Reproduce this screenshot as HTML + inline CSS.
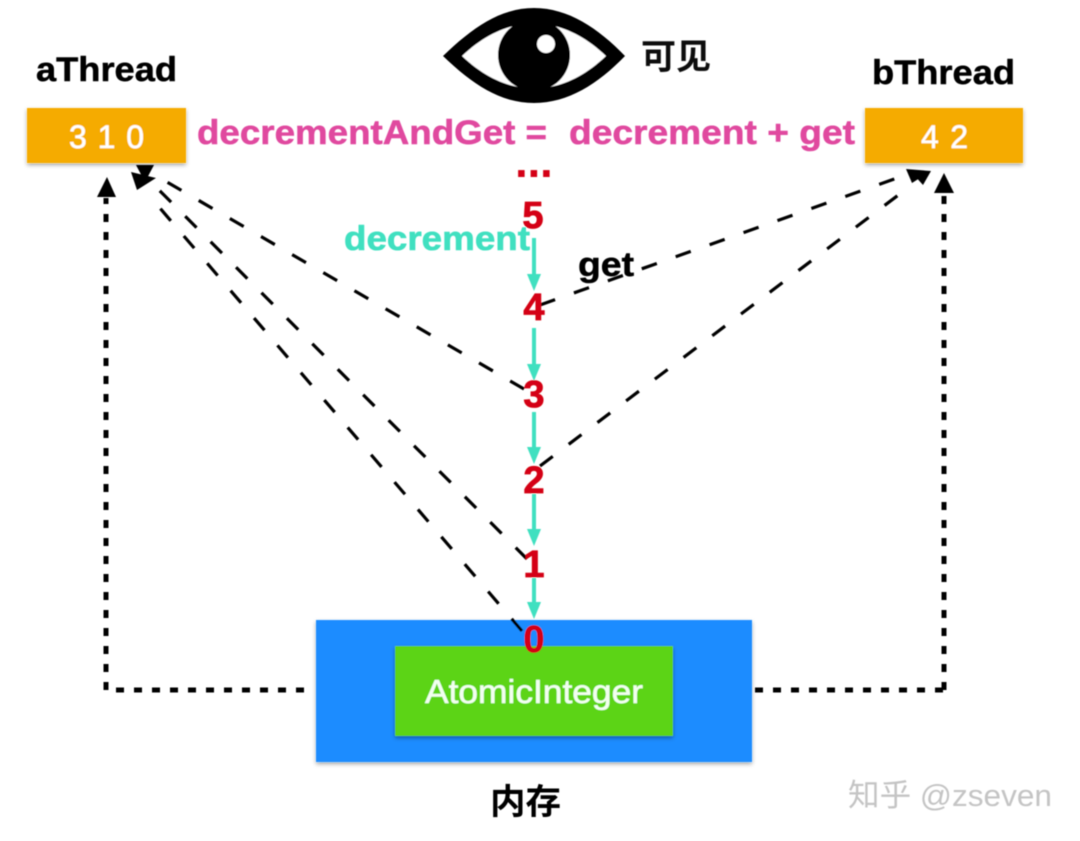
<!DOCTYPE html>
<html><head><meta charset="utf-8"><style>
html,body{margin:0;padding:0;background:#fff;width:1080px;height:841px;overflow:hidden}
svg{display:block}
text{font-family:"Liberation Sans","Noto Sans CJK SC",sans-serif;font-weight:700}
</style></head><body>
<svg width="1080" height="841" viewBox="0 0 1080 841" xmlns="http://www.w3.org/2000/svg">
<defs>
<filter id="s" x="-10%" y="-10%" width="120%" height="130%"><feDropShadow dx="0" dy="2" stdDeviation="2" flood-color="#000" flood-opacity=".35"/></filter>
<filter id="b"><feGaussianBlur stdDeviation="0.55"/></filter>
</defs>
<rect width="1080" height="841" fill="#fff"/>
<g filter="url(#b)">
<!-- eye -->
<path d="M443 56C472 28 500 8 534 8C568 8 598 28 625 56C598 84 568 103 534 103C500 103 472 84 443 56Z" fill="#000"/>
<path d="M462 56C480 39 498 29 518 25L550 25C570 29 588 39 606 56C588 73 570 83 550 87L518 87C498 83 480 73 462 56Z" fill="#fff"/>
<circle cx="534" cy="55" r="36" fill="#000"/>
<circle cx="546" cy="44" r="9" fill="#fff"/>

<!-- boxes -->
<rect x="27" y="108" width="159" height="55" fill="#f5ab00" filter="url(#s)"/>
<rect x="865" y="108" width="158" height="55" fill="#f5ab00" filter="url(#s)"/>
<rect x="316" y="620" width="436" height="142" fill="#1b8cff" filter="url(#s)"/>
<rect x="395" y="646" width="278" height="90" fill="#5bd418" filter="url(#s)"/>

<!-- dotted connectors -->
<g stroke="#000" stroke-width="5" fill="none" stroke-dasharray="8 10">
<path d="M304 690H106"/><path d="M106 690V198"/>
<path d="M755 690H944"/><path d="M944 690V194"/>
</g>
<path d="M107 177L97 197H116Z" fill="#000"/>
<path d="M944 173L934 193H954Z" fill="#000"/>

<!-- dashed connectors -->
<g stroke="#000" stroke-width="3.2" fill="none" stroke-dasharray="16 20">
<path d="M524 389L160 178"/>
<path d="M527 559L152 183"/>
<path d="M522 631L153 200"/>
<path d="M540 305L900 177"/>
<path d="M540 466L905 190"/>
</g>
<g fill="#000">
<path d="M136 165H154L145 182Z"/>
<path d="M131 172L156 178L137 190Z"/>
<path d="M906 169L931 171L912 183Z"/>
<path d="M931 171L923 185L914 175Z"/>
</g>

<!-- teal arrows -->
<g stroke="#3fe0c0" stroke-width="4" fill="none">
<path d="M534 238V276"/><path d="M534 328V368"/><path d="M534 412V452"/><path d="M534 494V535"/><path d="M534 578V606"/>
</g>
<g fill="#3fe0c0">
<path d="M534 291L527 274H541Z"/><path d="M534 381L527 364H541Z"/><path d="M534 464L527 447H541Z"/><path d="M534 546L527 529H541Z"/><path d="M534 619L527 602H541Z"/>
</g>

<!-- labels -->
<g stroke-linejoin="round">
<text x="36" y="81" font-size="34" fill="#000" stroke="#000" stroke-width=".5" textLength="141" lengthAdjust="spacingAndGlyphs">aThread</text>
<text x="872" y="84" font-size="34" fill="#000" stroke="#000" stroke-width=".5" textLength="143" lengthAdjust="spacingAndGlyphs">bThread</text>
<text x="69" y="148" font-size="32" fill="#fff" stroke="#fff" stroke-width=".5" style="font-weight:400" textLength="75">3 1 0</text>
<text x="921" y="148" font-size="32" fill="#fff" stroke="#fff" stroke-width=".5" style="font-weight:400" textLength="47">4 2</text>
<text x="197" y="144" font-size="34" fill="#e0489f" stroke="#e0489f" stroke-width=".5" textLength="350" lengthAdjust="spacingAndGlyphs">decrementAndGet =</text>
<text x="569" y="144" font-size="34" fill="#e0489f" stroke="#e0489f" stroke-width=".5" textLength="286" lengthAdjust="spacingAndGlyphs">decrement + get</text>
<text x="641" y="69" font-size="35" fill="#111" textLength="70" lengthAdjust="spacingAndGlyphs">可见</text>
<text x="344" y="250" font-size="34" fill="#3fe0c0" stroke="#3fe0c0" stroke-width=".6" textLength="186" lengthAdjust="spacingAndGlyphs">decrement</text>
<text x="578" y="276" font-size="34" fill="#000" stroke="#000" stroke-width=".5" textLength="56" lengthAdjust="spacingAndGlyphs">get</text>
<text x="425" y="703" font-size="33" fill="#f2fff0" stroke="#f2fff0" stroke-width=".5" style="font-weight:400" textLength="218" lengthAdjust="spacingAndGlyphs">AtomicInteger</text>
<text x="490" y="814" font-size="35" fill="#000" textLength="71" lengthAdjust="spacingAndGlyphs">内存</text>
<text x="848" y="806" font-size="31" fill="#c4c4c4" style="font-weight:400" textLength="204" lengthAdjust="spacingAndGlyphs">知乎 @zseven</text>
</g>

<!-- numbers -->
<text x="515 527.5 540" y="177" font-size="46" fill="#d40012">...</text>
<g fill="#d40012" stroke="#d40012" stroke-width=".8" font-size="38" text-anchor="middle">
<text x="533" y="228">5</text>
<text x="534" y="320">4</text>
<text x="534" y="407">3</text>
<text x="534" y="493">2</text>
<text x="534" y="577">1</text>
<text x="534" y="652">0</text>
</g>
</g>
</svg>
</body></html>
